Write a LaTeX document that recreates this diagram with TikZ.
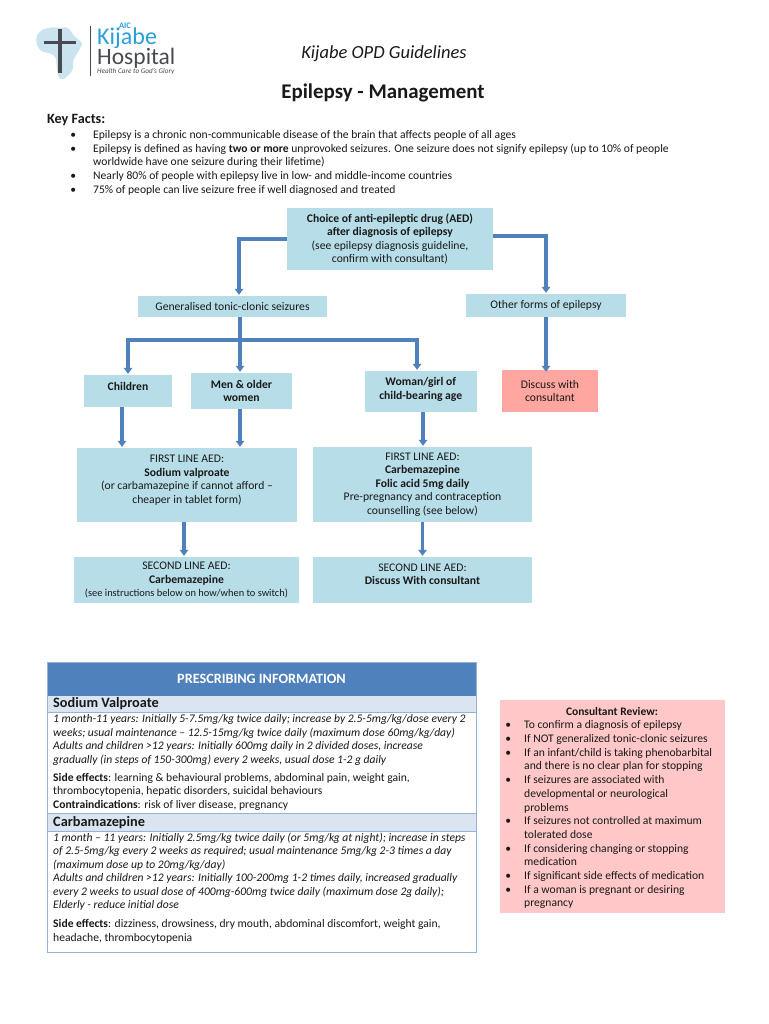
\documentclass[tikz,border=0pt]{standalone}
\usepackage{fontspec}
\setmainfont{Carlito}
\usetikzlibrary{arrows.meta}
\definecolor{boxblue}{HTML}{B7DEE8}
\definecolor{redbox}{HTML}{FFA6A0}
\definecolor{linkblue}{HTML}{4F81BD}
\definecolor{band}{HTML}{DBE5F1}
\definecolor{edgeblue}{HTML}{95B3D7}
\definecolor{pinkbox}{HTML}{FFC7C7}
\definecolor{afr}{HTML}{C9E3EF}
\definecolor{dark}{HTML}{474B4F}
\definecolor{kblue}{HTML}{2A9FD8}
\newcommand{\fz}[2]{\fontsize{#1}{#2}\selectfont}
\newcommand{\bu}{\strut\llap{\textbullet\hspace{13pt}}}
\newcommand{\bc}{\strut\llap{\textbullet\hspace{17pt}}}
\tikzset{
 flow/.style={fill=boxblue,inner sep=0pt,align=center,text=black!90,font=\fz{11.65}{13.5}},
 linkline/.style={draw=linkblue,line width=3.2pt,-{Triangle[width=8.5pt,length=6pt]},shorten >=1pt},
 para/.style={anchor=north west,inner sep=0pt,align=left,text=black!90,font=\fz{11.6}{13.6}},
}
\begin{document}
\begin{tikzpicture}[x=1pt,y=-1pt]
\useasboundingbox (0,0) rectangle (768,1024);
\fill[white] (0,0) rectangle (768,1024);
% logo
\fill[afr,rounded corners=3pt] (36,37)--(41,30)--(52,27)--(60,28)--(68,27)--(72,33)--(76,38)--(83,43)--(78,52)--(73,60)--(73,70)--(66,78)--(60,80)--(57,72)--(56,57)--(50,53)--(42,52)--(37,46)--cycle;
\fill[dark] (58.3,29) rectangle (61.7,73);
\fill[dark] (44,41.5) rectangle (76,44.5);
\draw[dark,line width=1pt] (90,26)--(90,76);
\node[inner sep=0pt,text=kblue,font=\fz{8.5}{9}\bfseries] (aic) at (125,25.5) {AIC};
\node[inner sep=0pt,anchor=west,text=kblue,font=\fz{24}{24}] (kij) at (97,38.5) {Kijabe};
\node[inner sep=0pt,anchor=west,text=dark,font=\fz{23.5}{24}] (hos) at (97,58) {Hospital};
\node[inner sep=0pt,anchor=west,text=dark,font=\fz{7.2}{8}\itshape] (tag) at (97,72) {Health Care to God's Glory};
% titles
\node[inner sep=0pt,font=\fz{18.5}{20}\itshape,text=black!90] (t1) at (384,54) {Kijabe OPD Guidelines};
\node[inner sep=0pt,font=\fz{20.9}{22}\bfseries,text=black!90] (t2) at (383,93) {Epilepsy - Management};
\node[para,font=\fz{14.2}{15}\bfseries] (kf) at (47,114) {Key Facts:};
\node[para] (facts) at (93,129) {\bc Epilepsy is a chronic non-communicable disease of the brain that affects people of all ages\\
\bc Epilepsy is defined as having \textbf{two or more} unprovoked seizures. One seizure does not signify epilepsy (up to 10\% of people\\
\strut worldwide have one seizure during their lifetime)\\
\bc Nearly 80\% of people with epilepsy live in low- and middle-income countries\\
\bc 75\% of people can live seizure free if well diagnosed and treated};
% flow boxes
\node[flow,minimum width=206pt,minimum height=62pt] (main) at (390,239) {\textbf{Choice of anti-epileptic drug (AED)}\\\textbf{after diagnosis of epilepsy}\\(see epilepsy diagnosis guideline,\\confirm with consultant)};
\node[flow,minimum width=189pt,minimum height=21pt] (gen) at (232.5,306.5) {Generalised tonic-clonic seizures};
\node[flow,minimum width=160pt,minimum height=23pt] (other) at (546,305.5) {Other forms of epilepsy};
\node[flow,minimum width=88pt,minimum height=32pt] (child) at (128,391) {\textbf{Children}\\[-3.5pt]~};
\node[flow,minimum width=101pt,minimum height=36pt] (men) at (241.5,391) {\textbf{Men \& older}\\\textbf{women}};
\node[flow,minimum width=111.5pt,minimum height=41pt] (woman) at (420.75,391.5) {\textbf{Woman/girl of}\\\textbf{child-bearing age}\\[-7.5pt]~};
\node[flow,fill=redbox,minimum width=96pt,minimum height=42pt] (disc) at (550,391) {Discuss with\\consultant};
\node[flow,minimum width=220pt,minimum height=74pt] (firstl) at (187,485) {FIRST LINE AED:\\\textbf{Sodium valproate}\\(or carbamazepine if cannot afford --\\cheaper in tablet form)\\[-1.5pt]~};
\node[flow,minimum width=219pt,minimum height=75pt] (firstr) at (422.5,484.5) {FIRST LINE AED:\\\textbf{Carbemazepine}\\\textbf{Folic acid 5mg daily}\\Pre-pregnancy and contraception\\counselling (see below)};
\node[flow,minimum width=225pt,minimum height=46pt] (secl) at (186.5,580) {SECOND LINE AED:\\\textbf{Carbemazepine}\\{\fz{10.4}{13.5}(see instructions below on how/when to switch)}};
\node[flow,minimum width=219pt,minimum height=46pt] (secr) at (422.5,580) {SECOND LINE AED:\\\textbf{Discuss With consultant}\\[-1.5pt]~};
% connectors
\coordinate (hub) at (240,340);
\draw[linkline] ([yshift=0pt]main.west) -| ([xshift=6.5pt]gen.north);
\draw[linkline] ([yshift=3pt]main.east) -| (other.north);
\draw[linkline] ([xshift=7.5pt]gen.south) -- ([xshift=-1.5pt]men.north);
\draw[linkline] (hub) -| (child.north);
\draw[linkline] (hub) -| ([xshift=-3.75pt]woman.north);
\draw[linkline] (other.south) -- ([xshift=-4pt,yshift=-3pt]disc.north);
\draw[linkline] ([xshift=-6pt]child.south) -- ([xshift=-65pt]firstl.north);
\draw[linkline] ([xshift=-1.5pt]men.south) -- ([xshift=53pt]firstl.north);
\draw[linkline] ([xshift=2.25pt]woman.south) -- ([xshift=.5pt]firstr.north);
\draw[linkline] ([xshift=-3pt]firstl.south) -- ([xshift=-2.5pt]secl.north);
\draw[linkline] (firstr.south) -- (secr.north);
% prescribing table
\fill[white] (47,662) rectangle (476,952);
\node[fill=linkblue,text=white,inner sep=0pt,minimum width=429pt,minimum height=34pt,font=\fz{14.2}{15}\bfseries] (phead) at (261.5,679) {PRESCRIBING INFORMATION};
\fill[band] (47,696) rectangle (476,712);
\fill[band] (47,813) rectangle (476,831);
\draw[edgeblue,line width=.8pt] (47,662) rectangle (476,952);
\draw[edgeblue,line width=.8pt] (47,712)--(476,712) (47,813)--(476,813) (47,831)--(476,831);
\node[para,font=\fz{14.3}{15}\bfseries] (sv) at (53,697) {Sodium Valproate};
\node[para,font=\fz{11.6}{13.6}\itshape] (sv1) at (53,713) {\strut 1 month-11 years: Initially 5-7.5mg/kg twice daily; increase by 2.5-5mg/kg/dose every 2\\
weeks; usual maintenance -- 12.5-15mg/kg twice daily (maximum dose 60mg/kg/day)\\
Adults and children >12 years: Initially 600mg daily in 2 divided doses, increase\\
gradually (in steps of 150-300mg) every 2 weeks, usual dose 1-2 g daily};
\node[para] (sv2) at (53,771.5) {\strut\textbf{Side effects}: learning \& behavioural problems, abdominal pain, weight gain,\\
thrombocytopenia, hepatic disorders, suicidal behaviours\\
\textbf{Contraindications}: risk of liver disease, pregnancy};
\node[para,font=\fz{14.3}{15}\bfseries] (cb) at (53,816) {Carbamazepine};
\node[para,font=\fz{11.6}{13.4}\itshape] (cb1) at (53,832) {\strut 1 month -- 11 years: Initially 2.5mg/kg twice daily (or 5mg/kg at night); increase in steps\\
of 2.5-5mg/kg every 2 weeks as required; usual maintenance 5mg/kg 2-3 times a day\\
(maximum dose up to 20mg/kg/day)\\
Adults and children >12 years: Initially 100-200mg 1-2 times daily, increased gradually\\
every 2 weeks to usual dose of 400mg-600mg twice daily (maximum dose 2g daily);\\
Elderly - reduce initial dose};
\node[para] (cb2) at (53,918) {\strut\textbf{Side effects}: dizziness, drowsiness, dry mouth, abdominal discomfort, weight gain,\\
headache, thrombocytopenia};
% consultant review
\fill[pinkbox] (500,700) rectangle (725,913);
\node[inner sep=0pt,font=\fz{11.5}{13}\bfseries,text=black!90] (crt) at (612,711) {Consultant Review:};
\node[para,font=\fz{11.6}{13.7}] (cr) at (524,719) {\bu To confirm a diagnosis of epilepsy\\
\bu If NOT generalized tonic-clonic seizures\\
\bu If an infant/child is taking phenobarbital\\
and there is no clear plan for stopping\\
\bu If seizures are associated with\\
developmental or neurological\\
problems\\
\bu If seizures not controlled at maximum\\
tolerated dose\\
\bu If considering changing or stopping\\
medication\\
\bu If significant side effects of medication\\
\bu If a woman is pregnant or desiring\\
pregnancy};
\end{tikzpicture}
\end{document}
